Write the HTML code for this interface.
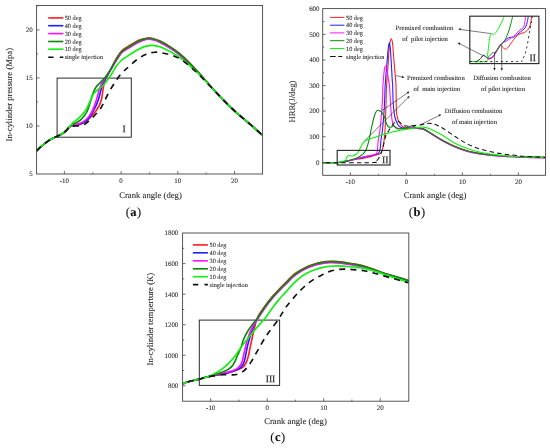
<!DOCTYPE html>
<html><head><meta charset="utf-8"><title>Figure</title>
<style>
html,body{margin:0;padding:0;background:#fff;}
body{width:550px;height:448px;overflow:hidden;}
svg{display:block;font-family:"Liberation Serif",serif;fill:#2e2e2e;text-rendering:geometricPrecision;}
text{stroke:#2e2e2e;stroke-width:.1px;}
.fr{fill:none;stroke:#444;stroke-width:.9;}
.tk{stroke:#444;stroke-width:.75;fill:none;}
.c{fill:none;stroke-linejoin:round;stroke-linecap:butt;}
.tl{font-size:6.9px;}
.rl{font-size:9.6px;stroke-width:.25px;}
.lg{font-size:6.25px;}
.ax{font-size:8.7px;}
.an{font-size:6.6px;}
.cap{font-size:12.5px;fill:#111;letter-spacing:.5px;}
.arr{stroke:#222;stroke-width:.6;fill:none;}
</style></head><body>
<svg width="550" height="448" viewBox="0 0 550 448">
<rect width="550" height="448" fill="#fff"/>
<g id="chart-a">
<rect class="fr" x="57.1" y="78.1" width="74.2" height="59.1" style="stroke:#2a2a2a;stroke-width:1"/>
<path class="c" d="M36.6 150.9C37.6 149.9 40.4 147.1 42.7 145.2C45.0 143.3 48.0 141.0 50.4 139.5C52.8 138.0 55.0 137.3 57.1 136.3C59.2 135.3 61.5 134.4 63.1 133.3C64.7 132.2 65.8 131.0 66.9 129.9C68.0 128.8 68.4 127.6 69.5 126.9C70.6 126.2 71.4 126.0 73.3 125.6C75.2 125.1 78.3 125.2 80.7 124.2C83.1 123.2 85.5 121.6 87.7 119.8C89.9 118.0 92.2 115.6 94.0 113.4C95.8 111.2 97.5 108.8 98.8 106.5C100.0 104.2 100.8 101.8 101.5 99.3C102.2 96.8 102.3 94.1 102.7 91.6C103.1 89.0 103.5 86.2 104.0 84.0C104.5 81.8 104.8 81.0 105.9 78.5C107.1 76.0 109.2 72.4 110.9 69.0C112.7 65.6 114.6 61.4 116.4 58.3C118.2 55.3 120.0 52.6 121.8 50.7C123.6 48.8 125.5 48.2 127.3 47.0C129.1 45.8 130.9 44.8 132.7 43.7C134.5 42.6 136.4 41.3 138.2 40.5C140.0 39.7 141.9 39.3 143.6 38.9C145.3 38.5 146.7 38.1 148.2 38.0C149.7 37.9 150.7 38.0 152.7 38.5C154.7 39.0 157.3 39.8 160.0 41.1C162.7 42.4 166.1 44.3 169.1 46.2C172.1 48.1 175.2 50.1 178.2 52.5C181.2 54.9 183.7 57.1 187.3 60.7C190.9 64.3 195.2 68.8 200.0 74.1C204.8 79.4 210.7 86.6 216.4 92.7C222.2 98.8 228.4 105.3 234.5 110.9C240.6 116.5 248.0 122.3 252.7 126.4C257.3 130.5 260.8 133.9 262.4 135.4" stroke="#ff2020" stroke-width="1.65"/>
<path class="c" d="M36.6 150.9C37.6 149.9 40.4 147.1 42.7 145.2C45.0 143.3 48.0 141.0 50.4 139.5C52.8 138.0 55.0 137.3 57.1 136.3C59.2 135.3 61.5 134.4 63.1 133.3C64.7 132.2 65.8 131.0 66.9 129.9C68.0 128.8 68.4 127.7 69.5 126.9C70.6 126.2 71.8 125.9 73.3 125.4C74.8 125.0 76.6 124.7 78.4 124.2C80.2 123.7 82.2 123.4 84.0 122.3C85.8 121.2 88.0 119.3 89.5 117.5C91.0 115.7 92.0 113.4 93.2 111.2C94.4 109.0 95.6 106.6 96.6 104.4C97.5 102.2 98.2 100.3 98.9 98.0C99.6 95.7 100.2 92.7 100.8 90.4C101.4 88.1 102.0 85.9 102.7 84.0C103.5 82.1 103.9 81.4 105.3 78.9C106.7 76.4 109.1 72.4 110.9 69.2C112.8 66.0 114.6 62.6 116.4 59.7C118.2 56.9 120.0 54.0 121.8 52.1C123.6 50.2 125.5 49.6 127.3 48.4C129.1 47.2 130.9 46.2 132.7 45.1C134.5 44.0 136.4 42.8 138.2 41.9C140.0 41.0 141.9 40.2 143.6 39.7C145.3 39.2 146.7 38.9 148.2 38.8C149.7 38.7 150.7 38.8 152.7 39.3C154.7 39.8 157.3 40.6 160.0 41.9C162.7 43.2 166.1 45.1 169.1 47.0C172.1 48.9 175.2 50.9 178.2 53.3C181.2 55.7 183.7 58.0 187.3 61.5C190.9 65.0 195.2 69.3 200.0 74.5C204.8 79.7 210.7 86.6 216.4 92.7C222.2 98.8 228.4 105.3 234.5 110.9C240.6 116.5 248.0 122.3 252.7 126.4C257.3 130.5 260.8 133.9 262.4 135.4" stroke="#2020ff" stroke-width="1.65"/>
<path class="c" d="M36.6 150.9C37.6 149.9 40.4 147.1 42.7 145.2C45.0 143.3 48.0 141.0 50.4 139.5C52.8 138.0 55.0 137.3 57.1 136.3C59.2 135.3 61.5 134.4 63.1 133.3C64.7 132.2 65.8 131.0 66.9 129.9C68.0 128.8 68.4 127.7 69.5 126.9C70.6 126.1 71.8 125.7 73.3 125.2C74.8 124.7 76.7 124.5 78.4 123.9C80.1 123.3 81.9 122.7 83.5 121.6C85.1 120.5 86.7 119.0 88.0 117.5C89.3 116.0 90.4 114.3 91.5 112.3C92.6 110.3 93.6 108.0 94.5 105.6C95.4 103.2 96.3 100.5 97.0 98.0C97.7 95.5 98.2 92.7 98.9 90.4C99.7 88.1 100.5 85.9 101.5 84.0C102.5 82.1 103.0 81.4 104.6 78.9C106.2 76.5 108.9 72.4 110.9 69.3C112.9 66.2 114.6 63.0 116.4 60.2C118.2 57.4 120.0 54.5 121.8 52.6C123.6 50.7 125.5 50.1 127.3 48.9C129.1 47.7 130.9 46.7 132.7 45.6C134.5 44.5 136.4 43.3 138.2 42.4C140.0 41.5 141.9 40.7 143.6 40.2C145.3 39.7 146.7 39.4 148.2 39.3C149.7 39.2 150.7 39.3 152.7 39.8C154.7 40.3 157.3 41.1 160.0 42.4C162.7 43.7 166.1 45.6 169.1 47.5C172.1 49.4 175.2 51.4 178.2 53.8C181.2 56.2 183.7 58.5 187.3 62.0C190.9 65.5 195.2 69.6 200.0 74.7C204.8 79.8 210.7 86.7 216.4 92.7C222.2 98.7 228.4 105.3 234.5 110.9C240.6 116.5 248.0 122.3 252.7 126.4C257.3 130.5 260.8 133.9 262.4 135.4" stroke="#ff10ff" stroke-width="1.65"/>
<path class="c" d="M36.6 150.9C37.6 149.9 40.4 147.1 42.7 145.2C45.0 143.3 48.0 141.0 50.4 139.5C52.8 138.0 55.0 137.3 57.1 136.3C59.2 135.3 61.5 134.4 63.1 133.3C64.7 132.2 65.8 131.0 66.9 129.9C68.0 128.8 68.7 127.8 69.5 126.9C70.3 126.1 70.7 125.6 72.0 124.8C73.3 124.0 75.6 123.1 77.1 122.3C78.6 121.5 79.6 120.9 80.9 119.7C82.2 118.5 83.6 116.8 84.7 115.3C85.8 113.8 86.6 112.5 87.5 110.5C88.4 108.5 89.0 106.0 90.0 103.1C91.0 100.2 92.1 95.7 93.2 92.9C94.3 90.1 95.1 88.3 96.4 86.5C97.7 84.7 99.2 83.8 100.8 82.1C102.4 80.4 104.3 78.5 105.9 76.4C107.5 74.3 108.8 72.5 110.6 69.6C112.3 66.7 114.5 62.1 116.4 59.1C118.3 56.1 120.0 53.4 121.8 51.5C123.6 49.6 125.5 49.0 127.3 47.8C129.1 46.6 130.9 45.6 132.7 44.5C134.5 43.4 136.4 42.2 138.2 41.3C140.0 40.4 141.9 39.6 143.6 39.1C145.3 38.6 146.7 38.3 148.2 38.2C149.7 38.1 150.7 38.2 152.7 38.7C154.7 39.2 157.3 40.0 160.0 41.3C162.7 42.6 166.1 44.5 169.1 46.4C172.1 48.3 175.2 50.3 178.2 52.7C181.2 55.1 183.7 57.3 187.3 60.9C190.9 64.5 195.2 69.0 200.0 74.3C204.8 79.6 210.7 86.6 216.4 92.7C222.2 98.8 228.4 105.3 234.5 110.9C240.6 116.5 248.0 122.3 252.7 126.4C257.3 130.5 260.8 133.9 262.4 135.4" stroke="#0a8a0a" stroke-width="1.65"/>
<path class="c" d="M36.6 150.9C37.6 149.9 40.4 147.1 42.7 145.2C45.0 143.3 48.0 141.0 50.4 139.5C52.8 138.0 55.0 137.3 57.1 136.3C59.2 135.3 61.5 134.4 63.1 133.3C64.7 132.2 65.8 131.0 66.9 129.9C68.0 128.8 68.4 128.2 69.5 126.9C70.6 125.6 71.8 123.7 73.3 122.3C74.8 120.9 76.5 120.3 78.2 118.7C80.0 117.1 82.3 114.7 83.8 112.8C85.3 110.9 86.3 109.2 87.3 107.3C88.3 105.4 89.0 103.7 90.0 101.5C91.0 99.3 92.0 96.0 93.2 94.2C94.4 92.4 95.3 91.9 97.0 90.4C98.7 88.9 101.5 87.0 103.4 85.0C105.3 83.0 107.0 80.6 108.5 78.5C110.0 76.4 111.2 74.6 112.5 72.5C113.8 70.4 114.9 68.1 116.4 66.0C118.0 63.9 120.0 61.6 121.8 60.0C123.6 58.4 125.5 57.6 127.3 56.4C129.1 55.2 130.9 53.9 132.7 52.7C134.5 51.6 136.4 50.5 138.2 49.5C140.0 48.5 141.8 47.5 143.6 46.9C145.4 46.2 147.4 45.8 149.1 45.6C150.8 45.4 151.8 45.3 153.6 45.5C155.4 45.7 157.4 45.8 160.0 46.7C162.6 47.6 166.1 49.3 169.1 50.9C172.1 52.5 175.2 54.3 178.2 56.4C181.2 58.5 183.7 60.5 187.3 63.6C190.9 66.7 195.2 70.4 200.0 75.2C204.8 80.0 210.7 86.8 216.4 92.7C222.2 98.7 228.4 105.3 234.5 110.9C240.6 116.5 248.0 122.3 252.7 126.4C257.3 130.5 260.8 133.9 262.4 135.4" stroke="#10f010" stroke-width="1.65"/>
<path class="c" d="M36.6 150.9C37.6 149.9 40.4 147.1 42.7 145.2C45.0 143.3 48.0 141.0 50.4 139.5C52.8 138.0 55.0 137.3 57.1 136.3C59.2 135.3 61.5 134.4 63.1 133.3C64.7 132.2 65.8 131.0 66.9 129.9C68.0 128.8 68.4 127.5 69.5 126.9C70.6 126.3 71.6 126.3 73.3 126.1C75.0 125.9 77.7 125.8 79.6 125.5C81.5 125.2 83.0 125.1 84.7 124.2C86.4 123.3 87.9 121.8 89.6 120.3C91.3 118.8 93.3 116.8 95.0 115.0C96.7 113.2 98.6 111.5 100.0 109.5C101.4 107.5 102.3 105.6 103.5 103.3C104.7 101.0 105.7 98.3 107.2 95.5C108.7 92.7 110.6 89.3 112.3 86.5C114.0 83.7 115.9 80.8 117.4 78.7C118.9 76.6 119.9 75.2 121.2 73.8C122.5 72.3 124.0 71.0 125.0 70.0C126.0 69.0 125.4 69.7 127.3 68.0C129.2 66.3 133.4 62.2 136.4 60.0C139.4 57.8 142.5 55.8 145.5 54.5C148.5 53.2 151.5 52.4 154.5 52.2C157.5 52.0 160.6 52.8 163.6 53.3C166.6 53.8 169.7 54.4 172.7 55.5C175.7 56.6 178.8 58.0 181.8 60.0C184.8 62.0 187.9 64.7 190.9 67.3C193.9 69.9 195.8 71.4 200.0 75.6C204.2 79.8 210.7 86.8 216.4 92.7C222.2 98.6 228.4 105.3 234.5 110.9C240.6 116.5 248.0 122.3 252.7 126.4C257.3 130.5 260.8 133.9 262.4 135.4" stroke="#111" stroke-width="1.65" stroke-dasharray="6 5.2"/>
<text class="rl" x="124.0" y="131.6" text-anchor="middle">I</text>
<rect class="fr" x="36.6" y="5.5" width="226.0" height="168.5"/>
<path class="tk" d="M64.4 174.0 v-3M121.1 174.0 v-3M177.8 174.0 v-3M234.5 174.0 v-3M92.8 174.0 v-1.6M149.4 174.0 v-1.6M206.1 174.0 v-1.6"/>
<text class="tl" x="64.4" y="182.6" text-anchor="middle">-10</text>
<text class="tl" x="121.1" y="182.6" text-anchor="middle">0</text>
<text class="tl" x="177.8" y="182.6" text-anchor="middle">10</text>
<text class="tl" x="234.5" y="182.6" text-anchor="middle">20</text>
<path class="tk" d="M36.6 126.0 h3M36.6 77.9 h3M36.6 29.9 h3M36.6 150.0 h1.6M36.6 101.9 h1.6M36.6 53.9 h1.6M36.6 5.8 h1.6"/>
<text class="tl" x="32.7" y="128.2" text-anchor="end">10</text>
<text class="tl" x="32.7" y="80.2" text-anchor="end">15</text>
<text class="tl" x="32.7" y="32.2" text-anchor="end">20</text>
<text class="tl" x="32.7" y="176.3" text-anchor="end">5</text>
<path class="c" d="M48.2 17.9 H63.3" stroke="#ff2020" stroke-width="1.65"/>
<text class="lg" x="64.7" y="20.0">50 deg</text>
<path class="c" d="M48.2 25.7 H63.3" stroke="#2020ff" stroke-width="1.65"/>
<text class="lg" x="64.7" y="27.8">40 deg</text>
<path class="c" d="M48.2 33.6 H63.3" stroke="#ff10ff" stroke-width="1.65"/>
<text class="lg" x="64.7" y="35.7">30 deg</text>
<path class="c" d="M48.2 41.5 H63.3" stroke="#0a8a0a" stroke-width="1.65"/>
<text class="lg" x="64.7" y="43.6">20 deg</text>
<path class="c" d="M48.2 49.2 H63.3" stroke="#10f010" stroke-width="1.65"/>
<text class="lg" x="64.7" y="51.3">10 deg</text>
<path class="c" d="M48.2 57.2 H63.3" stroke="#111" stroke-width="1.65" stroke-dasharray="5.4 6.2"/>
<text class="lg" x="64.7" y="59.3">single injection</text>
<text class="ax" transform="translate(12.3 94.7) rotate(-90)" text-anchor="middle">In-cylinder pressure (Mpa)</text>
<text class="ax" x="150.5" y="198.2" text-anchor="middle">Crank angle (deg)</text>
<text class="cap" x="133.7" y="215.6" text-anchor="middle">(<tspan font-weight="bold">a</tspan>)</text>
</g>
<g id="chart-b">
<path class="c" d="M322.7 162.6C325.2 162.6 334.9 162.7 338.0 162.6C341.1 162.5 340.0 162.4 341.0 162.2C342.0 162.0 342.6 161.9 344.0 161.6C345.4 161.3 347.2 161.0 349.1 160.6C351.0 160.2 353.8 159.4 355.5 159.1C357.2 158.8 357.2 159.2 359.3 158.9C361.4 158.6 365.7 157.8 368.2 157.2C370.7 156.6 372.6 155.9 374.5 155.4C376.4 154.9 378.4 154.6 379.6 154.0C380.8 153.4 381.0 153.2 381.5 152.1C382.0 151.0 382.4 149.6 382.8 147.6C383.2 145.6 383.7 143.3 384.1 140.0C384.5 136.7 384.9 134.0 385.2 128.0C385.5 122.0 385.8 111.0 386.0 104.0C386.2 97.0 386.3 90.9 386.5 86.0C386.7 81.1 387.1 78.5 387.4 74.5C387.7 70.5 388.0 65.8 388.3 61.8C388.6 57.8 388.7 53.6 389.0 50.4C389.3 47.2 389.5 44.7 389.9 42.7C390.3 40.8 390.8 38.7 391.2 38.7C391.6 38.7 392.1 40.3 392.5 42.7C392.9 45.1 393.0 49.1 393.3 52.9C393.6 56.7 394.1 61.8 394.4 65.6C394.7 69.4 395.0 72.4 395.3 75.8C395.6 79.2 395.8 80.2 396.0 86.0C396.2 91.8 396.1 105.3 396.4 110.9C396.7 116.5 397.3 117.3 398.0 119.6C398.7 121.9 399.7 123.2 400.7 124.5C401.7 125.8 402.7 126.6 404.0 127.3C405.3 128.0 407.1 128.5 408.4 128.6C409.7 128.7 410.8 127.9 412.0 127.8C413.2 127.7 414.2 127.9 415.5 128.0C416.8 128.1 418.6 128.0 420.0 128.1C421.4 128.2 422.3 128.2 423.6 128.7C424.9 129.2 426.2 130.1 428.0 131.2C429.8 132.3 431.7 133.6 434.3 135.2C436.9 136.8 440.1 138.8 443.6 140.7C447.1 142.6 451.6 144.9 455.5 146.6C459.4 148.3 463.4 149.7 467.3 150.8C471.2 151.9 475.2 152.5 479.1 153.2C483.0 153.9 487.0 154.4 490.9 154.8C494.8 155.2 497.8 155.5 502.7 155.8C507.6 156.1 512.9 156.4 520.0 156.6C527.1 156.8 541.1 157.1 545.3 157.2" stroke="#ff2020" stroke-width="1.10"/>
<path class="c" d="M322.7 162.6C325.2 162.6 334.9 162.7 338.0 162.6C341.1 162.5 340.0 162.4 341.0 162.2C342.0 162.0 342.6 161.9 344.0 161.6C345.4 161.3 347.2 161.0 349.1 160.6C351.0 160.2 353.4 159.6 355.5 159.1C357.6 158.6 359.7 158.1 361.8 157.6C363.9 157.1 365.9 156.8 368.2 156.3C370.5 155.8 374.0 155.2 375.8 154.6C377.6 154.0 378.2 153.9 379.0 152.7C379.8 151.5 380.0 149.7 380.3 147.6C380.6 145.5 380.6 143.3 381.0 140.0C381.4 136.7 382.1 134.0 382.7 128.0C383.3 122.0 384.1 111.0 384.5 104.0C384.9 97.0 384.9 89.8 385.1 86.0C385.3 82.2 385.3 83.9 385.5 80.9C385.7 77.9 386.2 72.0 386.5 68.2C386.8 64.4 387.1 61.4 387.4 58.0C387.7 54.6 388.0 50.3 388.3 47.8C388.6 45.2 389.0 42.7 389.3 42.7C389.6 42.7 390.0 45.4 390.3 47.8C390.6 50.2 390.7 53.6 390.9 57.0C391.1 60.4 391.4 64.2 391.6 68.2C391.8 72.2 392.1 77.9 392.3 80.9C392.5 83.9 392.6 83.0 392.7 86.0C392.8 89.0 392.9 95.3 393.0 99.0C393.1 102.7 393.3 104.9 393.6 108.0C393.9 111.1 394.3 114.8 395.0 117.5C395.7 120.2 396.9 122.9 397.8 124.5C398.8 126.1 399.5 126.6 400.7 127.3C401.9 128.0 403.4 128.4 405.0 128.4C406.6 128.4 408.2 127.2 410.0 127.1C411.8 127.0 413.8 127.8 415.5 128.0C417.2 128.2 418.6 128.4 420.0 128.6C421.4 128.7 422.3 128.6 423.6 129.2C424.9 129.7 426.2 130.6 428.0 131.7C429.8 132.7 431.7 134.1 434.3 135.7C436.9 137.2 440.1 139.2 443.6 141.2C447.1 143.1 451.6 145.4 455.5 147.1C459.4 148.7 463.4 150.2 467.3 151.2C471.2 152.3 475.2 153.0 479.1 153.7C483.0 154.3 487.0 154.8 490.9 155.2C494.8 155.7 497.8 155.9 502.7 156.2C507.6 156.6 512.9 156.8 520.0 157.1C527.1 157.3 541.1 157.6 545.3 157.7" stroke="#2020ff" stroke-width="1.10"/>
<path class="c" d="M322.7 162.6C325.2 162.6 334.9 162.7 338.0 162.6C341.1 162.5 340.0 162.4 341.0 162.2C342.0 162.0 342.6 161.9 344.0 161.6C345.4 161.3 347.2 161.0 349.1 160.6C351.0 160.2 353.4 159.7 355.5 159.1C357.6 158.5 359.7 157.7 361.8 157.2C363.9 156.7 366.1 156.3 368.2 155.9C370.3 155.5 373.1 155.0 374.5 154.6C375.9 154.2 376.0 154.1 376.5 153.4C377.0 152.7 377.1 152.4 377.4 150.2C377.7 148.0 377.8 144.0 378.3 140.0C378.8 136.0 379.7 133.2 380.4 126.4C381.1 119.6 382.1 105.8 382.5 99.1C382.9 92.4 382.7 89.5 382.9 86.0C383.1 82.5 383.3 81.0 383.5 78.4C383.7 75.9 384.0 72.6 384.2 70.7C384.4 68.8 384.6 67.8 384.9 67.0C385.2 66.2 385.7 66.1 386.0 66.2C386.3 66.3 386.7 66.5 386.9 67.5C387.1 68.5 387.1 69.8 387.4 72.0C387.7 74.2 388.2 78.6 388.6 80.9C389.0 83.2 389.2 82.8 389.5 86.0C389.8 89.2 390.1 95.8 390.4 100.0C390.6 104.2 390.7 107.6 391.0 110.9C391.3 114.2 391.6 117.1 392.0 119.6C392.4 122.0 392.9 124.2 393.6 125.6C394.3 127.0 394.9 127.3 396.4 127.8C397.9 128.3 400.4 128.9 402.7 128.8C405.0 128.7 407.9 127.3 410.0 127.2C412.1 127.1 413.8 127.9 415.5 128.2C417.2 128.5 418.6 128.6 420.0 128.8C421.4 129.0 422.3 128.9 423.6 129.4C424.9 129.9 426.2 130.8 428.0 131.9C429.8 133.0 431.7 134.3 434.3 135.9C436.9 137.5 440.1 139.5 443.6 141.4C447.1 143.3 451.6 145.6 455.5 147.3C459.4 149.0 463.4 150.4 467.3 151.5C471.2 152.6 475.2 153.2 479.1 153.9C483.0 154.6 487.0 155.1 490.9 155.5C494.8 155.9 497.8 156.2 502.7 156.5C507.6 156.8 512.9 157.1 520.0 157.3C527.1 157.5 541.1 157.8 545.3 157.9" stroke="#ff10ff" stroke-width="1.10"/>
<path class="c" d="M322.7 162.6C325.2 162.6 334.9 162.7 338.0 162.6C341.1 162.5 340.0 162.4 341.0 162.2C342.0 162.0 342.6 161.9 344.0 161.6C345.4 161.3 347.2 161.0 349.1 160.5C351.0 160.0 353.6 159.3 355.5 158.6C357.4 157.8 359.0 157.0 360.5 156.0C362.0 155.0 363.3 154.1 364.4 152.7C365.5 151.3 366.1 149.7 366.9 147.6C367.7 145.5 368.2 143.5 369.0 140.0C369.8 136.5 370.9 130.5 371.8 126.4C372.7 122.3 373.6 118.2 374.5 115.5C375.4 112.8 376.2 111.1 377.3 110.4C378.4 109.7 379.9 110.8 380.9 111.5C381.8 112.2 382.4 113.6 383.0 114.5C383.6 115.4 383.8 115.3 384.4 116.8C385.0 118.3 385.9 121.9 386.5 123.5C387.1 125.1 387.5 125.9 388.2 126.5C388.9 127.1 390.0 127.4 390.9 127.2C391.8 127.0 392.9 125.6 393.6 125.6C394.3 125.6 394.6 126.6 395.3 127.2C396.0 127.8 397.0 128.8 398.0 129.0C399.0 129.2 399.8 128.8 401.3 128.6C402.9 128.4 405.6 128.3 407.3 127.8C409.0 127.3 410.2 125.8 411.6 125.8C413.1 125.8 414.6 127.2 416.0 127.6C417.4 128.0 418.7 128.1 420.0 128.3C421.3 128.5 422.3 128.4 423.6 128.9C424.9 129.4 426.2 130.3 428.0 131.4C429.8 132.5 431.7 133.8 434.3 135.4C436.9 137.0 440.1 139.0 443.6 140.9C447.1 142.8 451.6 145.1 455.5 146.8C459.4 148.5 463.4 149.9 467.3 151.0C471.2 152.1 475.2 152.7 479.1 153.4C483.0 154.1 487.0 154.6 490.9 155.0C494.8 155.4 497.8 155.7 502.7 156.0C507.6 156.3 512.9 156.6 520.0 156.8C527.1 157.0 541.1 157.3 545.3 157.4" stroke="#0a8a0a" stroke-width="1.10"/>
<path class="c" d="M322.7 162.6C324.9 162.6 333.2 162.7 336.0 162.6C338.8 162.5 338.3 162.2 339.5 162.0C340.7 161.8 342.0 161.5 343.0 161.2C344.0 160.9 344.6 161.2 345.3 160.4C346.0 159.7 346.6 157.5 347.2 156.7C347.8 155.9 348.2 155.6 349.1 155.5C350.1 155.4 351.7 156.1 352.9 155.9C354.1 155.7 355.2 154.9 356.1 154.2C357.1 153.5 357.9 152.6 358.6 151.5C359.3 150.4 359.9 148.9 360.5 147.6C361.1 146.3 361.8 144.9 362.5 143.8C363.2 142.7 364.1 141.5 365.0 140.8C365.9 140.1 367.1 139.8 368.2 139.4C369.3 139.0 369.8 138.8 371.8 138.2C373.8 137.6 377.7 136.3 380.0 135.6C382.3 134.9 383.7 134.4 385.5 133.9C387.3 133.4 389.1 132.8 390.9 132.3C392.7 131.8 394.6 131.5 396.4 131.1C398.2 130.7 400.0 130.3 401.8 130.0C403.6 129.7 405.5 129.5 407.3 129.2C409.1 128.9 410.9 128.7 412.7 128.4C414.5 128.1 416.4 127.6 418.2 127.4C420.0 127.2 421.8 126.9 423.6 127.1C425.4 127.3 427.3 127.9 429.1 128.6C430.9 129.3 432.7 130.2 434.5 131.1C436.3 132.0 438.5 133.0 440.0 133.8C441.5 134.6 441.0 134.4 443.6 136.0C446.2 137.6 451.6 141.4 455.5 143.5C459.4 145.6 463.4 147.1 467.3 148.5C471.2 149.9 475.2 151.1 479.1 152.0C483.0 152.9 487.0 153.5 490.9 154.1C494.8 154.7 498.8 155.1 502.7 155.5C506.6 155.9 507.5 156.2 514.6 156.5C521.7 156.8 540.2 157.2 545.3 157.4" stroke="#10f010" stroke-width="1.10"/>
<path class="c" d="M322.7 162.6C331.1 162.6 364.2 163.0 373.3 162.6C382.4 162.2 375.9 161.6 377.1 160.4C378.3 159.2 379.5 157.0 380.3 155.3C381.1 153.6 381.7 151.9 382.2 150.2C382.7 148.5 383.1 146.8 383.5 145.1C383.9 143.4 384.3 141.7 384.7 140.0C385.1 138.3 385.4 136.4 386.0 135.0C386.6 133.6 387.4 132.8 388.2 131.5C389.0 130.2 390.0 128.4 391.0 127.0C392.0 125.6 393.0 124.2 394.0 123.2C395.0 122.2 396.0 121.4 397.0 121.3C398.0 121.2 399.0 121.8 400.0 122.4C401.0 123.0 401.9 124.2 403.0 124.8C404.1 125.4 405.0 125.9 406.5 126.1C408.0 126.3 409.8 126.0 412.0 125.8C414.2 125.6 417.4 125.3 420.0 124.9C422.6 124.5 425.5 123.6 427.5 123.4C429.5 123.2 430.5 123.4 432.0 123.7C433.5 124.0 434.6 124.2 436.5 125.0C438.4 125.8 440.4 126.8 443.6 128.8C446.8 130.8 451.6 134.3 455.5 136.8C459.4 139.3 463.4 141.9 467.3 143.9C471.2 145.9 475.2 147.4 479.1 148.7C483.0 150.0 487.0 150.8 490.9 151.7C494.8 152.6 498.8 153.3 502.7 153.9C506.6 154.5 510.7 154.9 514.6 155.3C518.6 155.7 521.3 156.2 526.4 156.5C531.5 156.8 542.1 157.2 545.3 157.4" stroke="#111" stroke-width="1.05" stroke-dasharray="4.5 3.2" stroke-dashoffset="4.5"/>
<rect class="fr" x="337.2" y="150.4" width="52.8" height="14.6" style="stroke:#2a2a2a;stroke-width:1.15"/>
<text class="rl" x="385.2" y="162.5" text-anchor="middle">II</text>
<rect class="fr" x="322.7" y="8.6" width="222.9" height="166.7"/>
<path class="tk" d="M350.4 175.3 v-3M406.4 175.3 v-3M462.4 175.3 v-3M518.4 175.3 v-3M378.4 175.3 v-1.6M434.4 175.3 v-1.6M490.4 175.3 v-1.6"/>
<text class="tl" x="350.4" y="183.6" text-anchor="middle">-10</text>
<text class="tl" x="406.4" y="183.6" text-anchor="middle">0</text>
<text class="tl" x="462.4" y="183.6" text-anchor="middle">10</text>
<text class="tl" x="518.4" y="183.6" text-anchor="middle">20</text>
<path class="tk" d="M322.7 162.3 h3M322.7 136.7 h3M322.7 111.1 h3M322.7 85.6 h3M322.7 60.0 h3M322.7 34.4 h3M322.7 149.5 h1.6M322.7 123.9 h1.6M322.7 98.3 h1.6M322.7 72.8 h1.6M322.7 47.2 h1.6M322.7 21.6 h1.6"/>
<text class="tl" x="319.5" y="164.6" text-anchor="end">0</text>
<text class="tl" x="319.5" y="139.0" text-anchor="end">100</text>
<text class="tl" x="319.5" y="113.4" text-anchor="end">200</text>
<text class="tl" x="319.5" y="87.9" text-anchor="end">300</text>
<text class="tl" x="319.5" y="62.3" text-anchor="end">400</text>
<text class="tl" x="319.5" y="36.7" text-anchor="end">500</text>
<text class="tl" x="319.5" y="10.9" text-anchor="end">600</text>
<path class="c" d="M330.1 17.4 H344.4" stroke="#ff2020" stroke-width="1.00"/>
<text class="lg" x="346.0" y="19.5">50 deg</text>
<path class="c" d="M330.1 25.2 H344.4" stroke="#2020ff" stroke-width="1.00"/>
<text class="lg" x="346.0" y="27.3">40 deg</text>
<path class="c" d="M330.1 32.9 H344.4" stroke="#ff10ff" stroke-width="1.00"/>
<text class="lg" x="346.0" y="35.0">30 deg</text>
<path class="c" d="M330.1 40.7 H344.4" stroke="#0a8a0a" stroke-width="1.00"/>
<text class="lg" x="346.0" y="42.8">20 deg</text>
<path class="c" d="M330.1 48.5 H344.4" stroke="#10f010" stroke-width="1.00"/>
<text class="lg" x="346.0" y="50.6">10 deg</text>
<path class="c" d="M330.1 56.5 H342.3" stroke="#111" stroke-width="1.00" stroke-dasharray="5.6 2.6"/>
<text class="lg" x="346.0" y="58.6">single injection</text>
<text class="ax" transform="translate(295.1 101.5) rotate(-90)" text-anchor="middle">HRR(J/deg)</text>
<text class="ax" x="435.0" y="198.2" text-anchor="middle">Crank angle (deg)</text>
<text class="cap" x="417.2" y="215.6" text-anchor="middle">(<tspan font-weight="bold">b</tspan>)</text>
<path class="arr" d="M396.0 75.5 L402.0 77.0"/>
<path d="M404.5 77.6 L401.7 78.1 L402.3 75.8 Z" fill="#111"/>
<text class="an" x="407.0" y="80.3" text-anchor="start">Premixed combusiton</text>
<text class="an" x="413.4" y="91.2" text-anchor="start">of&#160; main injection</text>
<path class="arr" d="M382.0 110.5 L407.4 93.0"/>
<path d="M409.5 91.5 L408.0 94.0 L406.7 92.0 Z" fill="#111"/>
<path class="arr" d="M365.5 140.0 L407.9 97.7"/>
<path d="M409.7 95.9 L408.7 98.6 L407.0 96.9 Z" fill="#111"/>
<path class="arr" d="M420.0 125.0 L439.0 115.6"/>
<path d="M441.3 114.4 L439.5 116.6 L438.4 114.5 Z" fill="#111"/>
<text class="an" x="444.8" y="113.0" text-anchor="start">Diffusion combusiton</text>
<text class="an" x="451.9" y="123.7" text-anchor="start">of main injection</text>
<text class="an" x="395.6" y="29.8" text-anchor="start">Premixed combusiton</text>
<text class="an" x="402.3" y="40.8" text-anchor="start">of&#160; pilot injection</text>
<text class="an" x="473.2" y="79.9" text-anchor="start">Diffusion combusiton</text>
<text class="an" x="481.0" y="91.0" text-anchor="start">of pilot injection</text>
<path class="c" d="M470.0 61.5C471.0 61.5 474.8 61.5 476.0 61.5C477.2 61.5 476.5 61.8 477.3 61.3C478.1 60.8 479.8 59.2 480.9 58.2C481.9 57.2 482.7 55.4 483.6 55.3C484.5 55.2 485.5 57.1 486.4 57.7C487.3 58.3 488.2 59.0 489.1 59.0C490.0 59.0 490.9 58.7 491.8 58.0C492.7 57.3 493.4 56.3 494.5 54.7C495.6 53.1 497.1 49.9 498.2 48.2C499.3 46.5 500.1 44.6 500.9 44.5C501.6 44.4 501.9 46.5 502.7 47.3C503.5 48.1 504.6 49.1 505.5 49.1C506.4 49.1 507.0 48.7 508.2 47.3C509.4 45.9 511.2 42.9 512.7 40.9C514.2 38.9 515.9 36.7 517.3 35.5C518.7 34.3 519.5 34.2 520.9 33.6C522.3 33.0 524.1 32.7 525.5 31.8C526.9 30.9 528.2 29.9 529.1 28.2C530.0 26.5 530.5 23.8 530.9 21.8C531.3 19.8 531.4 17.1 531.5 16.2" stroke="#ff2020" stroke-width="1.00"/>
<path class="c" d="M470.0 61.5C471.0 61.5 474.8 61.5 476.0 61.5C477.2 61.5 476.5 61.8 477.3 61.3C478.1 60.8 479.8 59.2 480.9 58.2C481.9 57.2 482.7 55.4 483.6 55.3C484.5 55.2 485.5 57.0 486.4 57.5C487.3 58.0 488.2 58.6 489.1 58.6C490.0 58.6 490.9 58.3 491.8 57.6C492.7 56.9 493.4 56.1 494.5 54.5C495.6 52.9 497.1 49.9 498.2 48.2C499.3 46.5 500.0 45.5 500.9 44.5C501.8 43.5 502.7 43.1 503.6 42.2C504.5 41.3 505.3 39.9 506.4 39.1C507.5 38.3 508.8 37.6 510.0 37.3C511.2 37.0 512.4 37.8 513.6 37.3C514.8 36.8 515.9 35.6 517.3 34.5C518.7 33.4 520.4 32.1 521.8 30.9C523.2 29.7 524.6 28.8 525.5 27.3C526.4 25.8 526.8 23.7 527.3 21.8C527.8 19.9 528.1 17.1 528.2 16.2" stroke="#2020ff" stroke-width="1.00"/>
<path class="c" d="M470.0 61.5C471.0 61.5 474.8 61.5 476.0 61.5C477.2 61.5 476.5 61.8 477.3 61.3C478.1 60.8 479.8 59.2 480.9 58.2C481.9 57.2 482.7 55.4 483.6 55.3C484.5 55.1 485.5 56.8 486.4 57.3C487.3 57.8 488.2 58.2 489.1 58.2C490.0 58.2 490.9 57.9 491.8 57.3C492.7 56.7 493.4 56.0 494.5 54.5C495.6 53.0 497.0 50.0 498.2 48.2C499.4 46.4 500.4 44.8 501.8 43.6C503.2 42.4 504.9 41.8 506.4 40.9C507.9 40.0 509.4 39.3 510.9 38.2C512.4 37.1 514.0 35.9 515.5 34.5C517.0 33.1 518.6 31.2 520.0 30.0C521.4 28.8 522.8 28.7 523.6 27.3C524.4 25.9 524.6 23.7 524.9 21.8C525.2 19.9 525.5 17.1 525.6 16.2" stroke="#ff10ff" stroke-width="1.00"/>
<path class="c" d="M470.0 61.5C471.0 61.5 474.8 61.5 476.0 61.5C477.2 61.5 476.5 61.8 477.3 61.3C478.1 60.8 479.8 59.2 480.9 58.2C481.9 57.2 482.8 55.6 483.6 55.3C484.4 55.0 484.9 56.0 485.5 56.4C486.1 56.8 486.7 57.8 487.3 57.8C487.9 57.8 488.2 57.2 489.1 56.4C490.0 55.5 491.8 53.3 492.7 52.7C493.6 52.1 493.7 53.2 494.5 52.7C495.3 52.2 496.2 51.4 497.3 50.0C498.4 48.6 499.7 46.0 500.9 44.5C502.1 43.0 503.3 42.9 504.5 40.9C505.7 38.9 507.1 35.6 508.2 32.7C509.3 29.8 510.1 26.4 510.9 23.6C511.6 20.9 512.4 17.4 512.7 16.2" stroke="#0a8a0a" stroke-width="1.00"/>
<path class="c" d="M470.0 61.5C472.7 61.5 483.5 62.4 486.4 61.5C489.3 60.6 486.9 58.8 487.3 56.4C487.7 54.0 488.1 50.6 488.5 47.3C488.9 44.0 489.4 38.7 490.0 36.4C490.6 34.1 491.2 33.9 491.8 33.6C492.4 33.3 492.8 34.8 493.6 34.5C494.4 34.2 495.3 33.3 496.4 31.8C497.5 30.3 498.9 27.5 500.0 25.5C501.1 23.5 502.0 21.6 502.7 20.0C503.4 18.4 503.8 16.8 504.0 16.2" stroke="#10f010" stroke-width="1.00"/>
<path class="c" d="M470.0 61.5C477.9 61.5 508.7 61.8 517.3 61.5C525.9 61.2 520.6 61.0 521.8 60.0C523.0 59.0 523.7 57.3 524.5 55.5C525.3 53.7 525.7 52.0 526.4 49.1C527.1 46.2 527.9 41.5 528.5 38.2C529.1 34.9 529.5 31.8 530.0 29.1C530.5 26.4 531.1 23.9 531.5 21.8C531.9 19.7 532.2 17.4 532.4 16.5" stroke="#111" stroke-width="0.85" stroke-dasharray="2.2 2.9"/>
<rect class="fr" x="469.8" y="16.2" width="69.1" height="47.4" style="stroke:#2a2a2a;stroke-width:1.15"/>
<text class="rl" x="532.7" y="61.0" text-anchor="middle">II</text>
<path class="arr" d="M490.9 33.6 L460.8 29.5"/>
<path d="M458.2 29.1 L460.9 28.3 L460.6 30.6 Z" fill="#111"/>
<path class="arr" d="M482.7 55.5 L459.9 43.9"/>
<path d="M457.6 42.7 L460.5 42.8 L459.4 45.0 Z" fill="#111"/>
<path class="arr" d="M494.5 52.7 L494.5 67.9"/>
<path d="M494.5 70.5 L493.3 67.9 L495.7 67.9 Z" fill="#111"/>
<path class="arr" d="M501.6 45.5 L501.8 68.2"/>
<path d="M501.8 70.8 L500.6 68.2 L503.0 68.2 Z" fill="#111"/>
</g>
<g id="chart-c">
<rect class="fr" x="199.3" y="320.1" width="80.3" height="65.3" style="stroke:#2a2a2a;stroke-width:1"/>
<path class="c" d="M182.7 383.9C183.5 383.6 185.3 382.6 187.3 382.0C189.3 381.4 192.5 380.7 194.5 380.2C196.5 379.7 197.7 379.6 199.5 379.1C201.3 378.6 203.1 377.9 205.5 377.3C207.9 376.7 211.0 376.2 214.1 375.6C217.2 375.1 221.0 374.7 224.0 374.0C227.0 373.3 229.7 372.4 232.3 371.6C234.9 370.8 237.7 369.9 239.5 369.1C241.3 368.3 242.1 367.8 243.2 366.8C244.3 365.8 245.1 364.9 245.9 363.2C246.7 361.5 247.6 358.9 248.2 356.8C248.8 354.7 249.1 352.6 249.5 350.5C249.9 348.4 250.3 346.9 250.8 344.5C251.3 342.1 251.9 339.3 252.5 336.4C253.1 333.5 253.8 330.4 254.6 327.3C255.4 324.2 255.8 320.9 257.5 317.5C259.1 314.1 262.1 310.1 264.5 306.7C266.9 303.3 269.4 300.1 271.8 297.2C274.2 294.3 276.7 291.8 279.1 289.2C281.5 286.6 284.0 284.3 286.4 281.9C288.8 279.5 291.2 276.7 293.6 274.7C296.0 272.7 298.5 271.4 300.9 270.0C303.3 268.6 305.8 267.4 308.2 266.3C310.6 265.2 313.1 264.4 315.5 263.7C317.9 263.0 320.4 262.5 322.7 262.1C325.0 261.7 326.9 261.5 329.5 261.4C332.1 261.3 335.2 261.3 338.2 261.6C341.2 261.8 344.3 262.4 347.3 262.9C350.3 263.3 353.4 263.7 356.4 264.3C359.4 264.9 362.5 265.6 365.5 266.5C368.5 267.4 371.5 268.5 374.5 269.6C377.5 270.7 380.6 272.0 383.6 273.0C386.6 274.0 389.7 274.8 392.7 275.7C395.7 276.6 399.2 277.6 401.8 278.4C404.4 279.2 407.4 280.2 408.5 280.6" stroke="#ff2020" stroke-width="1.65"/>
<path class="c" d="M182.7 383.9C183.5 383.6 185.3 382.6 187.3 382.0C189.3 381.4 192.5 380.7 194.5 380.2C196.5 379.7 197.7 379.6 199.5 379.1C201.3 378.6 203.1 377.9 205.5 377.3C207.9 376.7 211.0 376.1 214.1 375.5C217.2 374.9 220.8 374.3 224.0 373.6C227.2 372.9 230.4 372.1 233.0 371.2C235.6 370.3 237.9 369.2 239.5 368.2C241.1 367.2 241.9 366.3 242.7 365.0C243.5 363.7 244.0 362.3 244.5 360.5C245.0 358.7 245.4 356.4 245.9 354.1C246.4 351.8 246.6 349.7 247.3 346.8C248.0 343.9 249.0 340.2 250.0 337.0C251.0 333.8 251.9 330.4 253.2 327.3C254.4 324.2 255.6 321.9 257.5 318.7C259.4 315.5 262.1 311.3 264.5 307.9C266.9 304.5 269.4 301.3 271.8 298.4C274.2 295.5 276.7 292.9 279.1 290.4C281.5 287.8 284.0 285.5 286.4 283.1C288.8 280.7 291.2 277.9 293.6 275.9C296.0 273.8 298.5 272.3 300.9 270.8C303.3 269.3 305.8 268.2 308.2 267.1C310.6 266.1 313.1 265.2 315.5 264.5C317.9 263.8 320.4 263.3 322.7 262.9C325.0 262.5 326.9 262.3 329.5 262.2C332.1 262.1 335.2 262.1 338.2 262.4C341.2 262.6 344.3 263.2 347.3 263.7C350.3 264.1 353.4 264.5 356.4 265.1C359.4 265.7 362.5 266.4 365.5 267.3C368.5 268.2 371.5 269.4 374.5 270.4C377.5 271.4 380.6 272.4 383.6 273.4C386.6 274.3 389.7 275.2 392.7 276.1C395.7 277.0 399.2 278.0 401.8 278.8C404.4 279.6 407.4 280.6 408.5 281.0" stroke="#2020ff" stroke-width="1.65"/>
<path class="c" d="M182.7 383.9C183.5 383.6 185.3 382.6 187.3 382.0C189.3 381.4 192.5 380.7 194.5 380.2C196.5 379.7 197.7 379.6 199.5 379.1C201.3 378.6 203.1 377.9 205.5 377.3C207.9 376.7 211.2 376.1 214.1 375.4C217.0 374.7 220.2 373.9 223.2 373.2C226.2 372.4 229.9 371.7 232.3 370.9C234.7 370.1 236.3 369.3 237.7 368.2C239.1 367.1 240.1 365.9 240.9 364.5C241.7 363.1 242.2 361.4 242.7 359.5C243.2 357.6 243.6 355.4 244.1 353.2C244.6 351.0 244.9 349.0 245.6 346.3C246.3 343.6 247.2 340.2 248.3 337.0C249.4 333.8 250.8 330.3 252.3 327.3C253.8 324.3 255.5 322.4 257.5 319.2C259.5 316.0 262.1 311.8 264.5 308.4C266.9 305.0 269.4 301.8 271.8 298.9C274.2 296.0 276.7 293.4 279.1 290.9C281.5 288.3 284.0 286.0 286.4 283.6C288.8 281.2 291.2 278.4 293.6 276.4C296.0 274.3 298.5 272.8 300.9 271.3C303.3 269.8 305.8 268.7 308.2 267.6C310.6 266.6 313.1 265.7 315.5 265.0C317.9 264.3 320.4 263.8 322.7 263.4C325.0 263.0 326.9 262.8 329.5 262.7C332.1 262.6 335.2 262.6 338.2 262.9C341.2 263.1 344.3 263.8 347.3 264.2C350.3 264.6 353.4 265.0 356.4 265.6C359.4 266.2 362.5 266.9 365.5 267.8C368.5 268.7 371.5 269.9 374.5 270.9C377.5 271.9 380.6 272.8 383.6 273.7C386.6 274.6 389.7 275.5 392.7 276.4C395.7 277.3 399.2 278.3 401.8 279.1C404.4 279.9 407.4 280.9 408.5 281.3" stroke="#ff10ff" stroke-width="1.65"/>
<path class="c" d="M182.7 383.9C183.5 383.6 185.3 382.6 187.3 382.0C189.3 381.4 192.5 380.7 194.5 380.2C196.5 379.7 197.7 379.6 199.5 379.1C201.3 378.6 203.6 377.8 205.5 377.3C207.4 376.8 209.1 376.4 211.0 375.9C212.9 375.4 214.8 374.8 216.8 374.1C218.8 373.4 221.2 372.6 223.2 371.8C225.2 371.0 227.1 370.1 228.6 369.1C230.1 368.1 231.2 367.2 232.3 365.9C233.4 364.6 234.1 363.2 235.0 361.4C235.9 359.6 236.7 357.3 237.7 355.0C238.7 352.7 239.9 350.3 240.9 347.7C241.9 345.1 242.4 342.2 243.5 339.5C244.6 336.8 246.1 333.8 247.7 331.2C249.3 328.6 251.6 325.8 253.2 323.6C254.8 321.4 255.6 320.9 257.5 318.2C259.4 315.5 262.1 310.8 264.5 307.4C266.9 304.0 269.4 300.8 271.8 297.9C274.2 295.0 276.7 292.4 279.1 289.9C281.5 287.3 284.0 285.0 286.4 282.6C288.8 280.2 291.2 277.4 293.6 275.4C296.0 273.3 298.5 271.8 300.9 270.3C303.3 268.8 305.8 267.7 308.2 266.6C310.6 265.6 313.1 264.7 315.5 264.0C317.9 263.3 320.4 262.8 322.7 262.4C325.0 262.0 326.9 261.8 329.5 261.7C332.1 261.6 335.2 261.6 338.2 261.9C341.2 262.1 344.3 262.8 347.3 263.2C350.3 263.6 353.4 264.0 356.4 264.6C359.4 265.2 362.5 265.9 365.5 266.8C368.5 267.7 371.5 268.8 374.5 269.9C377.5 271.0 380.6 272.2 383.6 273.2C386.6 274.2 389.7 275.0 392.7 275.9C395.7 276.8 399.2 277.8 401.8 278.6C404.4 279.4 407.4 280.4 408.5 280.8" stroke="#0a8a0a" stroke-width="1.65"/>
<path class="c" d="M182.7 383.9C183.5 383.6 185.3 382.6 187.3 382.0C189.3 381.4 192.5 380.7 194.5 380.2C196.5 379.7 197.8 379.5 199.5 379.1C201.2 378.7 202.6 378.4 205.0 377.6C207.4 376.8 211.1 375.7 214.1 374.1C217.1 372.5 220.5 370.3 223.2 368.2C225.9 366.1 228.4 363.6 230.5 361.4C232.6 359.2 234.1 357.4 235.9 355.0C237.7 352.6 239.1 349.9 241.4 346.8C243.7 343.7 246.9 339.6 249.5 336.4C252.1 333.2 254.9 329.8 256.8 327.5C258.7 325.2 259.7 324.2 261.0 322.8C262.3 321.4 262.7 321.3 264.5 319.0C266.3 316.7 269.4 312.1 271.8 308.8C274.2 305.5 276.7 302.3 279.1 299.4C281.5 296.5 284.0 294.1 286.4 291.4C288.8 288.7 291.2 285.8 293.6 283.4C296.0 281.0 298.5 278.6 300.9 276.8C303.3 275.0 305.8 273.7 308.2 272.5C310.6 271.3 313.1 270.4 315.5 269.5C317.9 268.6 320.4 267.9 322.7 267.4C325.0 266.9 326.9 266.6 329.5 266.3C332.1 266.1 335.2 265.9 338.2 265.9C341.2 265.9 344.3 266.2 347.3 266.5C350.3 266.8 353.4 267.0 356.4 267.4C359.4 267.8 362.5 268.0 365.5 268.6C368.5 269.2 371.5 270.1 374.5 271.0C377.5 271.9 380.6 273.1 383.6 274.1C386.6 275.1 389.7 276.2 392.7 277.2C395.7 278.2 399.2 279.2 401.8 280.1C404.4 281.0 407.4 281.9 408.5 282.3" stroke="#10f010" stroke-width="1.65"/>
<path class="c" d="M182.7 383.9C183.5 383.6 185.3 382.6 187.3 382.0C189.3 381.4 192.5 380.7 194.5 380.2C196.5 379.7 197.7 379.6 199.5 379.1C201.3 378.6 203.1 377.9 205.5 377.3C207.9 376.7 211.2 376.1 214.1 375.6C217.0 375.2 220.2 374.7 223.2 374.6C226.2 374.5 229.9 375.0 232.3 374.9C234.7 374.8 235.9 374.7 237.7 374.1C239.5 373.5 241.5 372.6 243.2 371.4C244.9 370.2 246.3 368.5 247.7 366.8C249.1 365.1 250.2 363.3 251.4 361.4C252.6 359.5 253.5 357.8 255.0 355.2C256.5 352.6 258.7 348.6 260.5 345.5C262.3 342.4 264.1 339.2 265.9 336.4C267.7 333.6 269.3 331.7 271.4 328.8C273.5 325.9 277.0 321.4 278.6 319.0C280.2 316.6 280.0 316.7 281.3 314.6C282.6 312.5 284.3 309.4 286.4 306.6C288.4 303.8 291.2 300.7 293.6 297.9C296.0 295.1 298.5 292.3 300.9 289.9C303.3 287.5 305.8 285.3 308.2 283.4C310.6 281.5 313.1 279.8 315.5 278.3C317.9 276.8 320.4 275.7 322.7 274.6C325.0 273.5 326.5 272.5 329.1 271.6C331.7 270.8 335.2 269.9 338.2 269.5C341.2 269.1 344.3 269.1 347.3 269.2C350.3 269.3 353.4 269.6 356.4 269.9C359.4 270.2 362.5 270.4 365.5 271.0C368.5 271.6 371.5 272.4 374.5 273.2C377.5 274.0 380.6 275.0 383.6 275.9C386.6 276.8 389.7 277.4 392.7 278.3C395.7 279.2 399.2 280.2 401.8 281.0C404.4 281.8 407.4 282.5 408.5 282.8" stroke="#111" stroke-width="1.65" stroke-dasharray="6 5.2" stroke-dashoffset="6"/>
<text class="rl" x="270.5" y="382.0" text-anchor="middle">III</text>
<rect class="fr" x="182.6" y="233.0" width="226.2" height="168.2"/>
<path class="tk" d="M210.7 401.2 v-3M267.2 401.2 v-3M323.7 401.2 v-3M380.2 401.2 v-3M238.9 401.2 v-1.6M295.4 401.2 v-1.6M351.9 401.2 v-1.6"/>
<text class="tl" x="210.7" y="410.3" text-anchor="middle">-10</text>
<text class="tl" x="267.2" y="410.3" text-anchor="middle">0</text>
<text class="tl" x="323.7" y="410.3" text-anchor="middle">10</text>
<text class="tl" x="380.2" y="410.3" text-anchor="middle">20</text>
<path class="tk" d="M182.6 385.8 h3M182.6 355.3 h3M182.6 324.7 h3M182.6 294.2 h3M182.6 263.6 h3M182.6 370.5 h1.6M182.6 340.0 h1.6M182.6 309.5 h1.6M182.6 278.9 h1.6M182.6 248.4 h1.6"/>
<text class="tl" x="178.3" y="388.1" text-anchor="end">800</text>
<text class="tl" x="178.3" y="357.6" text-anchor="end">1000</text>
<text class="tl" x="178.3" y="327.0" text-anchor="end">1200</text>
<text class="tl" x="178.3" y="296.5" text-anchor="end">1400</text>
<text class="tl" x="178.3" y="265.9" text-anchor="end">1600</text>
<text class="tl" x="178.3" y="235.3" text-anchor="end">1800</text>
<path class="c" d="M192.9 244.9 H207.9" stroke="#ff2020" stroke-width="1.65"/>
<text class="lg" x="209.5" y="247.0">50 deg</text>
<path class="c" d="M192.9 252.8 H207.9" stroke="#2020ff" stroke-width="1.65"/>
<text class="lg" x="209.5" y="254.9">40 deg</text>
<path class="c" d="M192.9 260.8 H207.9" stroke="#ff10ff" stroke-width="1.65"/>
<text class="lg" x="209.5" y="262.9">30 deg</text>
<path class="c" d="M192.9 268.8 H207.9" stroke="#0a8a0a" stroke-width="1.65"/>
<text class="lg" x="209.5" y="270.9">20 deg</text>
<path class="c" d="M192.9 276.7 H207.9" stroke="#10f010" stroke-width="1.65"/>
<text class="lg" x="209.5" y="278.8">10 deg</text>
<path class="c" d="M192.9 284.6 H207.9" stroke="#111" stroke-width="1.65" stroke-dasharray="5.4 6.2"/>
<text class="lg" x="209.5" y="286.7">single injection</text>
<text class="ax" transform="translate(152.6 319.1) rotate(-90)" text-anchor="middle">In-cylinder temperture (K)</text>
<text class="ax" x="295.5" y="424.2" text-anchor="middle">Crank angle (deg)</text>
<text class="cap" x="278.0" y="441.2" text-anchor="middle">(<tspan font-weight="bold">c</tspan>)</text>
</g>
</svg>
</body></html>
